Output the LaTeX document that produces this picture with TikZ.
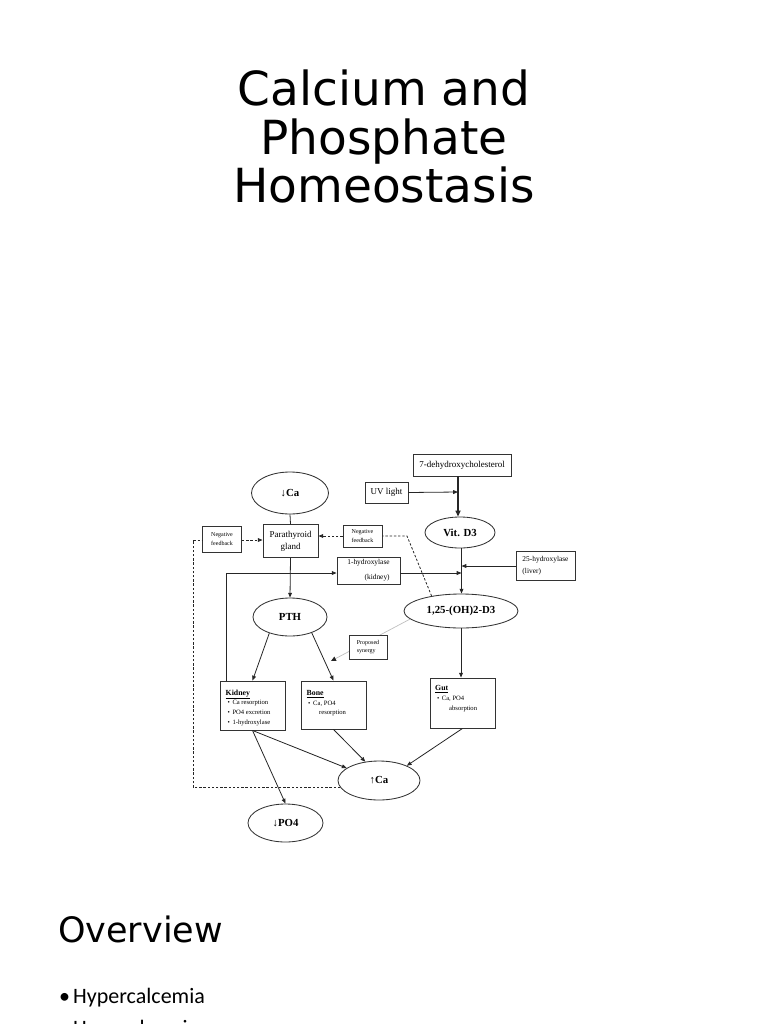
\documentclass[tikz,border=0pt]{standalone}
\usepackage{fontspec}
\setmainfont{Liberation Serif}
\newfontfamily\titlefont{DejaVu Sans}
\newfontfamily\bodyfont{Carlito}
\usetikzlibrary{shapes.geometric,arrows.meta,calc}
\begin{document}
\begin{tikzpicture}[x=1pt,y=-1pt,
  ln/.style={draw=black!85, line width=0.8pt},
  arr/.style={ln, -{Triangle[length=4.8pt,width=3.8pt]}},
  thickarr/.style={draw=black!85, line width=1.8pt, -{Triangle[length=6pt,width=5pt]}},
  dsh/.style={dash pattern=on 2.4pt off 1.8pt},
  synarr/.style={draw=black!25, line width=0.7pt, -{Triangle[length=5pt,width=4.5pt,black!85]}},
  bx/.style={rectangle, draw=black!80, line width=0.85pt, fill=white, inner sep=0pt, align=center},
  el/.style={ellipse, draw=black!80, line width=0.85pt, inner sep=0pt, font=\fontsize{10.8}{12}\selectfont\bfseries},
  tx/.style={inner sep=0pt, anchor=base west},
  f9/.style={font=\fontsize{9}{12.3}\selectfont},
  f7/.style={font=\fontsize{7.4}{15}\selectfont},
  f6/.style={font=\fontsize{6}{8.8}\selectfont},
  hd/.style={tx, font=\fontsize{7.8}{9}\selectfont\bfseries},
  bl/.style={tx, font=\fontsize{6.6}{8}\selectfont},
  ttl/.style={inner sep=0pt, anchor=base, font=\titlefont\fontsize{47}{49}\selectfont},
]
\useasboundingbox (0,0) rectangle (768,1024);

% ---------- titles ----------
\node[ttl] (t1) at (384,106) {Calcium and};
\node[ttl] (t2) at (384,154.5) {Phosphate};
\node[ttl] (t3) at (384,203) {Homeostasis};

\node[inner sep=0pt, anchor=base west, font=\titlefont\fontsize{35}{40}\selectfont] (ov) at (58,942) {Overview};
\node[inner sep=0pt, anchor=base west, font=\bodyfont\fontsize{22}{26}\selectfont] (b1) at (59,1003) {•};
\node[inner sep=0pt, anchor=base west, font=\bodyfont\fontsize{22}{26}\selectfont] (h1) at (73,1003) {Hypercalcemia};
\node[inner sep=0pt, anchor=base west, font=\bodyfont\fontsize{22}{26}\selectfont] (b2) at (59,1035) {•};
\node[inner sep=0pt, anchor=base west, font=\bodyfont\fontsize{22}{26}\selectfont] (h2) at (73,1035) {Hypocalcemia};

% ---------- ellipses ----------
\node[el, minimum width=77pt, minimum height=42pt] (dca) at (290,493) {↓Ca};
\node[el, minimum width=70pt, minimum height=31pt] (vitd3) at (460,532.5) {Vit. D3};
\node[el, minimum width=74pt, minimum height=38pt] (pth) at (290,617) {PTH};
\node[el, minimum width=114pt, minimum height=34pt] (d125) at (461,611) {1,25-(OH)2-D3};
\node[el, minimum width=82pt, minimum height=39pt] (uca) at (379,780.5) {↑Ca};
\node[el, minimum width=75pt, minimum height=38pt] (dpo4) at (285.5,823) {↓PO4};

% ---------- boxes ----------
\node[bx, f9, minimum width=98pt, minimum height=22pt] (dehydro) at (462,465) {7-dehydroxycholesterol};
\node[bx, f9, minimum width=43pt, minimum height=21pt] (uv) at (386.5,492.5) {UV light};
\node[bx, f9, minimum width=55pt, minimum height=33pt] (para) at (290.5,541) {Parathyroid\\gland};
\node[bx, f6, align=left, minimum width=39pt, minimum height=26pt] (nfl) at (222,539) {Negative\\feedback};
\node[bx, f6, align=left, minimum width=39pt, minimum height=22pt] (nfm) at (362.5,536) {Negative\\feedback};
\node[bx, f7, align=right, minimum width=63pt, minimum height=27pt] (hyd1) at (368.5,570.5) {1-hydroxylase\\(kidney)};
\node[bx, font=\fontsize{7.4}{11.7}\selectfont, align=left, minimum width=59pt, minimum height=29pt] (hyd25) at (545.5,565.5) {25-hydroxylase\\(liver)};

\node[bx, minimum width=65pt, minimum height=49pt] (kidney) at (252.5,705.5) {};
\node[bx, minimum width=65pt, minimum height=48pt] (bone) at (333.5,705) {};
\node[bx, minimum width=65pt, minimum height=50pt] (gut) at (462.5,703) {};

% box contents
\node[hd] (kh) at (225.5,695.5) {\underline{Kidney}};
\node[bl] (kb1) at (227.5,704.2) {•};
\node[bl] (k1) at (232.3,704.2) {Ca resorption};
\node[bl] (kb2) at (227.5,714.1) {•};
\node[bl] (k2) at (232.3,714.1) {PO4 excretion};
\node[bl] (kb3) at (227.5,724) {•};
\node[bl] (k3) at (232.3,724) {1-hydroxylase};

\node[hd] (bh) at (306.5,695.5) {\underline{Bone}};
\node[bl] (bb1) at (308,705.5) {•};
\node[bl] (bo1) at (313,705.5) {Ca, PO4};
\node[bl] (bo2) at (319,714) {resorption};

\node[hd] (gh) at (435,690.5) {\underline{Gut}};
\node[bl] (gb1) at (437,700.5) {•};
\node[bl] (gu1) at (441.7,700.5) {Ca, PO4};
\node[bl] (gu2) at (449,710.5) {absorption};

% ---------- junction coordinates ----------
\coordinate (vj) at (458,492);
\coordinate (vl) at (461.5,560);
\coordinate (j25) at (461.5,566);
\coordinate (j1) at (461.5,573);
\coordinate (kt) at (226,681);
\coordinate (synt) at (331,661);
\coordinate (lc) at (193,787);
\coordinate (lu) at (193,540);
\coordinate (mk) at (407,536);

% ---------- connectors ----------
\draw[thickarr] (dehydro.south -| vj) -- (vitd3.north -| vj);
\draw[arr] (uv.east) -- (vj);
\draw[arr] (vitd3.south -| vl) -- (d125.north -| vl);
\draw[arr] (hyd25.west |- j25) -- (j25);
\draw[arr] (hyd1.east |- j1) -- (j1);
\draw[arr] (kt) |- (hyd1.west |- j1);

\draw[ln] (dca.south) -- (para.north);
\draw[arr] (para.south) -- (pth.north);
\draw[arr] (pth.218) -- (kidney.north);
\draw[arr] (pth.324) -- (bone.north);
\draw[arr] (d125.south) -- (d125.south |- gut.north);

\draw[arr] (kidney.south) -- (uca.159);
\draw[arr] (kidney.south) -- (dpo4.north);
\draw[arr] (bone.south) -- (uca.126);
\draw[arr] (gut.south) -- (uca.28);

% dashed feedback
\draw[ln, dsh] (uca.190) -- (uca.190 -| lc) -- (lu) -- (nfl.west |- lu);
\draw[arr, dsh] (nfl.east |- lu) -- (para.west |- lu);
\draw[ln, dsh] (d125.153) -- (mk) -- (nfm.east |- mk);
\draw[arr, dsh] (nfm.west |- mk) -- (para.east |- mk);

% proposed synergy (line passes behind box)
\draw[synarr] (d125.189) -- (synt);
\node[bx, f6, align=left, minimum width=38pt, minimum height=24pt] (ps) at (368,647) {Proposed\\synergy};
\end{tikzpicture}
\end{document}
